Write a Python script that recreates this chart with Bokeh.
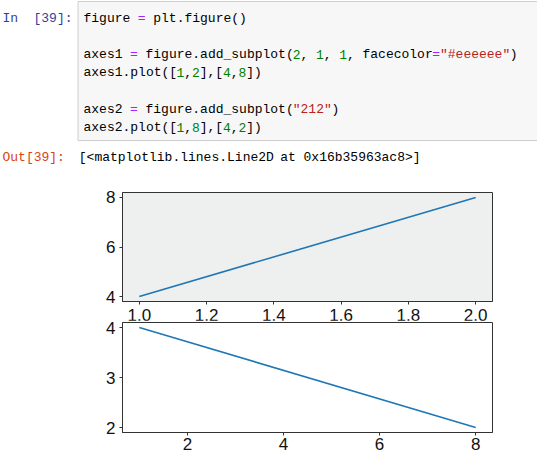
import re
from bokeh.core.properties import value
from bokeh.embed import file_html
from bokeh.layouts import column
from bokeh.models import FixedTicker, PrintfTickFormatter, Range1d
from bokeh.plotting import figure
from bokeh.resources import INLINE

# notebook cell text
prompt_in = ["In", "[39]:"]
prompt_out = "Out[39]:"
code_lines = [
    'figure = plt.figure()',
    '',
    'axes1 = figure.add_subplot(2, 1, 1, facecolor="#eeeeee")',
    'axes1.plot([1,2],[4,8])',
    '',
    'axes2 = figure.add_subplot("212")',
    'axes2.plot([1,8],[4,2])',
]
out_text = "[<matplotlib.lines.Line2D at 0x16b35963ac8>]"

# the two subplots
x1 = [1, 2]
y1 = [4, 8]
x2 = [1, 8]
y2 = [4, 2]
xticks1 = [1.0, 1.2, 1.4, 1.6, 1.8, 2.0]
yticks1 = [4, 6, 8]
xticks2 = [2, 4, 6, 8]
yticks2 = [2, 3, 4]

W = 537
MONO = value("Liberation Mono")
CW = 7.75  # char cell width


def runs(line, x0, y, color, xs, ys, ts, cs):
    # split into non-space runs so spaces survive svg
    for m in re.finditer(r"\S+", line):
        xs.append(x0 + m.start() * CW)
        ys.append(y)
        ts.append(m.group())
        cs.append(color)


def code_tokens(line):
    out, pos = [], 0
    for m in re.finditer(r'"[^"]*"|(?<!\w)\d+|=', line):
        if m.start() > pos:
            out.append((pos, line[pos:m.start()], "#000000"))
        t = m.group()
        if t.startswith('"'):
            col = "#ba2121"
        elif t == "=":
            col = "#aa22ff"
        else:
            col = "#008000"
        out.append((m.start(), t, col))
        pos = m.end()
    if pos < len(line):
        out.append((pos, line[pos:], "#000000"))
    return out


# header: input cell + output line
head = figure(width=W, height=184, x_range=Range1d(0, W), y_range=Range1d(184, 0),
              x_axis_type=None, y_axis_type=None, output_backend="svg",
              toolbar_location=None, tools="", min_border=0)
head.frame_align = False
head.outline_line_color = None
head.quad(left=77.5, right=W + 20, top=1, bottom=140,
          fill_color="#f7f7f7", line_color="#cfcfcf")

xs, ys, ts, cs = [], [], [], []
for i, line in enumerate(code_lines):
    yy = 17.5 + 18.2 * i
    for start, tok, col in code_tokens(line):
        runs(tok, 83 + start * CW, yy, col, xs, ys, ts, cs)
xs += [2, 2 + 4 * CW]
ys += [17.5, 17.5]
ts += prompt_in
cs += ["#303f9f", "#303f9f"]
runs(prompt_out, 2, 156.5, "#d84315", xs, ys, ts, cs)
runs(out_text, 78.3, 156.5, "#000000", xs, ys, ts, cs)
head.text(x=xs, y=ys, text=ts, text_color=cs, text_font=MONO,
          text_font_size="13px", text_baseline="middle", text_align="left")


def subplot(xd, yd, xt, yt, xfmt, bg, height, top, bottom, standoff):
    def pad(v):
        span = max(v) - min(v)
        return Range1d(min(v) - 0.05 * span, max(v) + 0.05 * span)

    p = figure(width=W, height=height, x_range=pad(xd), y_range=pad(yd),
               output_backend="svg", toolbar_location=None, tools="",
               min_border_left=122, min_border_right=45,
               min_border_top=top, min_border_bottom=bottom)
    p.frame_align = False
    p.line(xd, yd, line_color="#1f77b4", line_width=1.6)
    p.background_fill_color = bg
    p.border_fill_color = "#ffffff"
    p.grid.visible = False
    p.outline_line_color = "#333333"
    p.outline_line_width = 1
    p.xaxis.ticker = FixedTicker(ticks=xt)
    p.yaxis.ticker = FixedTicker(ticks=yt)
    p.xaxis.formatter = PrintfTickFormatter(format=xfmt)
    p.yaxis.formatter = PrintfTickFormatter(format="%d")
    for ax in (p.xaxis, p.yaxis):
        ax.axis_line_color = "#333333"
        ax.major_tick_line_color = "#333333"
        ax.major_tick_out = 3
        ax.major_tick_in = 0
        ax.minor_tick_line_color = None
        ax.major_label_text_font = "Liberation Sans"
        ax.major_label_text_font_size = "17px"
        ax.major_label_text_color = "#111111"
    p.xaxis.major_label_standoff = standoff
    p.yaxis.major_label_standoff = 4
    return p


p1 = subplot(x1, y1, xticks1, yticks1, "%.1f", "#eeefef", 157, 8, 40, 4)
p2 = subplot(x2, y2, xticks2, yticks2, "%d", "#ffffff", 134, 2, 22, 2)
p2.margin = (-21, 0, 0, 0)

p = column(head, p1, p2, margin=(0, 0, -30, 0))

open("out.html", "w").write(file_html(p, INLINE))
